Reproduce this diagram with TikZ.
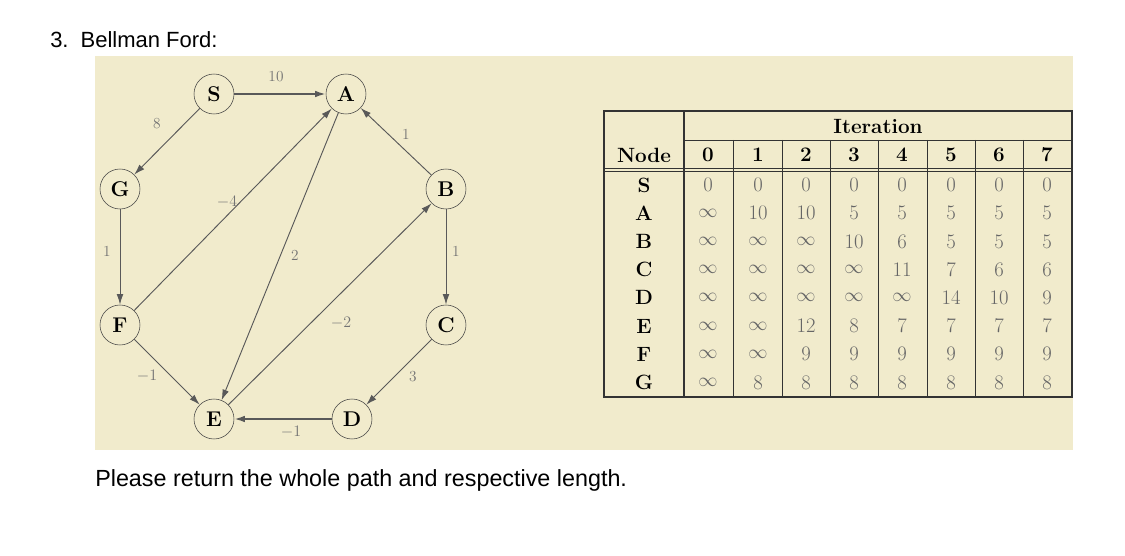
\documentclass[tikz,border=0pt]{standalone}
\usepackage{fontspec}
\newfontfamily\sans{Liberation Sans}
\usetikzlibrary{arrows.meta}
\begin{document}
\begin{tikzpicture}[x=0.75pt,y=-0.75pt,
  vert/.style={circle,draw=black!75,fill=panel,minimum size=30pt,inner sep=0pt,font=\bfseries\fontsize{16}{19}\selectfont},
  edge/.style={draw=black!65,line width=0.7pt,-{Latex[length=8pt,width=5pt]}},
  wt/.style={font=\fontsize{11.5}{13}\selectfont,text=black!55},
  tv/.style={font=\fontsize{15.5}{18}\selectfont,text=black!60},
  th/.style={font=\bfseries\fontsize{15.5}{18}\selectfont}]
\definecolor{panel}{HTML}{F1EBCC}
\useasboundingbox (0,0) rectangle (1125,556);
\fill[white] (0,0) rectangle (1125,556);
\fill[panel] (95,56) rectangle (1073,450);
\node[anchor=west,inner sep=0pt,font=\sans\fontsize{16.5}{19}\selectfont] (title) at (50,40) {3.\hspace{9pt}Bellman Ford:};
\node[anchor=west,inner sep=0pt,font=\sans\fontsize{17.5}{21}\selectfont] (foot) at (95,480) {Please return the whole path and respective length.};
% graph
\node[vert] (S) at (214,94) {S};
\node[vert] (A) at (346,94) {A};
\node[vert] (G) at (120,189) {G};
\node[vert] (B) at (446,189) {B};
\node[vert] (F) at (120,325) {F};
\node[vert] (C) at (446,325) {C};
\node[vert] (E) at (214,419) {E};
\node[vert] (D) at (352,419) {D};
\draw[edge,line width=1.3pt] (S) -- (A);
\draw[edge] (S) -- (G);
\draw[edge] (B) -- (A);
\draw[edge] (G) -- (F);
\draw[edge] (B) -- (C);
\draw[edge] (F) -- (A);
\draw[edge] (A) -- (E);
\draw[edge] (E) -- (B);
\draw[edge] (F) -- (E);
\draw[edge] (C) -- (D);
\draw[edge,line width=1.3pt] (D) -- (E);
\node[wt] (w1) at (276,77) {10};
\node[wt] (w2) at (157,124) {8};
\node[wt] (w3) at (406,134) {1};
\node[wt] (w4) at (107,251) {1};
\node[wt] (w5) at (456,251) {1};
\node[wt] (w6) at (227,202) {$-4$};
\node[wt] (w7) at (295,255) {2};
\node[wt] (w8) at (341,323) {$-2$};
\node[wt] (w9) at (147,376) {$-1$};
\node[wt] (w10) at (413,377) {3};
\node[wt] (w11) at (291,432) {$-1$};
% table
\def\cx{{708,758,806,854,902,951,999,1047}}
\draw[black!80,line width=0.8pt] (604,111) rectangle (1072,397);
\draw[black!80,line width=0.8pt] (684,111) -- (684,397);
\draw[black!80] (684,140) -- (1072,140);
\draw[black!80,line width=1pt] (604,168.5) -- (1072,168.5);
\draw[black!80,line width=0.4pt] (604,171) -- (1072,171);
\foreach \x in {733,782,830,878,927,975,1023} \draw[black!80] (\x,140) -- (\x,397);
\node[th] (it) at (878,126) {Iteration};
\node[th] (nd) at (644,155) {Node};
\foreach \i in {0,...,7} {\pgfmathsetmacro\xx{\cx[\i]} \node[th] (h\i) at (\xx,155) {\i};}
\foreach \name/\vals [count=\r from 0] in {
 S/{0,0,0,0,0,0,0,0},
 A/{$\infty$,10,10,5,5,5,5,5},
 B/{$\infty$,$\infty$,$\infty$,10,6,5,5,5},
 C/{$\infty$,$\infty$,$\infty$,$\infty$,11,7,6,6},
 D/{$\infty$,$\infty$,$\infty$,$\infty$,$\infty$,14,10,9},
 E/{$\infty$,$\infty$,12,8,7,7,7,7},
 F/{$\infty$,$\infty$,9,9,9,9,9,9},
 G/{$\infty$,8,8,8,8,8,8,8}} {
  \pgfmathsetmacro\yy{185+28.2*\r}
  \node[th] (n\name) at (644,\yy) {\name};
  \foreach \v [count=\c from 0] in \vals {
    \pgfmathsetmacro\xx{\cx[\c]}
    \node[tv] (v\name\c) at (\xx,\yy) {\v};
  }
}
\end{tikzpicture}
\end{document}
